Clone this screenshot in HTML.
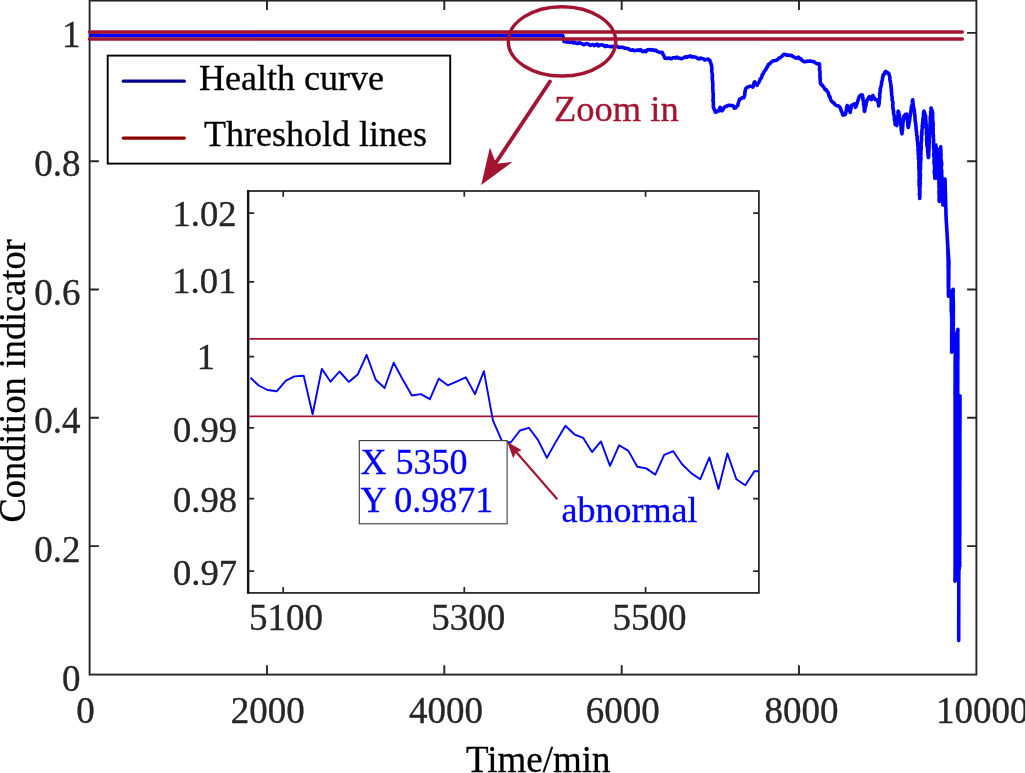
<!DOCTYPE html>
<html lang="en">
<head>
<meta charset="utf-8">
<title>Condition indicator health curve</title>
<style>
html,body{margin:0;padding:0;background:#fff;}
body{width:1025px;height:773px;overflow:hidden;}
svg{display:block;}
text{font-family:"Liberation Serif",serif;font-size:36px;}
.tk{fill:#262626;font-size:37px;stroke:#262626;stroke-width:0.35px;}
.itk{fill:#262626;font-size:36.6px;stroke:#262626;stroke-width:0.35px;}
.lb{fill:#000;stroke:#000;stroke-width:0.3px;}
.ax{stroke:#262626;stroke-width:1.9;fill:none;}
.iax{stroke:#262626;stroke-width:1.75;fill:none;}
.blue{fill:#0000ff;stroke:#0000ff;stroke-width:0.3px;}
.thr{fill:#a2142f;stroke:#a2142f;stroke-width:0.3px;font-size:36.5px;}
</style>
</head>
<body>
<svg width="1025" height="773" viewBox="0 0 1025 773">
<rect x="0" y="0" width="1025" height="773" fill="#ffffff"/>

<rect class="ax" x="89.6" y="0.6" width="886.8" height="674.0"/>
<path class="ax" d="M267.0,674.6v-9.3M267.0,0.6v9.3M444.3,674.6v-9.3M444.3,0.6v9.3M621.7,674.6v-9.3M621.7,0.6v9.3M799.0,674.6v-9.3M799.0,0.6v9.3M89.6,546.1h9.3M976.4,546.1h-9.3M89.6,417.8h9.3M976.4,417.8h-9.3M89.6,289.5h9.3M976.4,289.5h-9.3M89.6,161.2h9.3M976.4,161.2h-9.3M89.6,32.9h9.3M976.4,32.9h-9.3"/>
<polyline points="90.6,35.4 562.6,35.4 563.5,38.0 563.7,39.7 564.0,41.4 565.4,41.0 566.7,42.1 568.1,41.3 569.5,42.4 570.8,42.3 572.2,41.9 573.6,43.0 574.9,42.3 576.3,43.4 577.8,43.4 579.2,42.9 580.7,43.1 582.2,43.8 583.6,44.7 585.1,44.2 586.4,43.6 587.8,43.9 589.1,44.7 590.4,45.4 591.7,44.8 593.1,44.5 594.4,45.7 595.7,44.9 597.1,44.2 598.4,45.9 599.8,45.0 601.2,44.9 602.5,45.0 603.9,45.5 605.3,46.6 606.6,45.6 608.0,46.3 609.4,46.5 610.7,46.8 612.1,46.4 613.4,46.8 614.8,46.0 616.1,46.1 617.5,46.5 618.8,47.4 620.2,47.2 621.6,47.3 623.0,47.4 624.5,48.2 625.9,48.2 627.3,48.6 628.7,48.7 630.1,50.0 631.5,50.2 632.9,49.8 634.3,50.7 635.8,50.5 637.3,50.1 638.9,50.5 640.4,49.5 641.8,51.0 643.1,51.6 644.5,50.8 645.9,51.6 647.3,49.7 648.7,49.8 650.1,49.5 651.5,50.3 652.9,49.6 654.3,50.6 655.7,50.1 657.1,51.3 658.4,51.9 659.8,52.4 661.1,52.3 662.4,52.5 663.0,54.6 663.7,55.1 664.4,57.2 665.0,58.3 666.3,58.4 667.6,58.3 669.0,58.0 670.3,58.6 671.6,58.7 672.9,57.8 674.2,57.8 675.5,58.1 676.9,57.0 678.2,58.2 679.5,58.1 680.9,58.7 682.2,58.4 683.5,57.8 684.8,57.1 686.1,56.9 687.4,57.1 688.7,56.5 690.2,55.9 691.6,57.0 693.1,56.8 694.6,57.0 696.0,57.2 697.5,58.3 699.0,59.0 700.4,58.0 701.9,58.4 703.4,58.9 704.8,60.0 706.3,59.5 708.0,59.1 709.8,60.2 710.3,61.8 710.9,63.5 711.4,65.1 711.7,66.5 711.8,67.8 711.9,69.2 711.7,70.5 711.9,71.9 712.0,73.2 712.4,74.6 712.5,75.9 712.2,77.3 712.3,78.6 712.4,80.0 712.5,81.3 712.8,82.7 712.8,84.1 712.9,85.4 712.8,86.8 712.6,88.2 712.9,89.5 712.9,90.9 713.0,92.3 713.3,93.6 713.2,95.0 713.1,96.4 713.2,97.7 713.2,99.1 712.9,100.5 713.4,101.8 713.4,103.2 713.4,104.6 713.4,105.9 713.3,107.3 713.8,108.3 714.3,109.6 714.8,110.3 715.3,112.2 716.6,112.0 718.0,110.5 719.3,110.8 719.5,109.0 720.2,107.3 720.8,107.9 721.4,109.0 722.0,110.8 723.1,109.4 724.1,107.8 725.2,106.6 726.3,106.4 727.8,105.5 729.4,105.2 731.0,105.5 732.5,105.5 733.4,106.0 734.2,108.2 735.4,108.0 736.6,106.6 737.8,105.5 738.0,104.0 738.5,102.5 739.0,100.9 739.5,99.4 741.0,98.6 742.4,97.5 743.9,97.6 744.4,96.1 744.8,94.7 744.8,93.2 745.1,91.7 745.2,90.3 745.7,88.8 747.2,87.2 748.6,86.8 750.1,86.2 751.4,86.2 752.7,87.1 753.2,86.4 753.8,83.8 754.3,82.3 754.8,81.8 755.6,83.8 756.3,84.2 757.1,85.3 758.0,83.2 758.8,82.4 759.7,80.9 760.2,78.8 760.7,78.5 761.3,78.1 761.8,76.7 762.3,74.8 763.2,73.8 764.1,71.7 765.0,70.6 765.9,69.5 766.5,67.6 767.2,67.3 767.9,65.6 768.5,64.2 769.8,63.8 771.1,62.1 772.5,61.1 773.8,60.7 775.1,60.6 776.4,60.3 777.7,59.4 779.0,58.1 780.1,57.8 781.2,56.9 782.3,55.9 783.4,54.6 785.0,54.3 786.5,55.1 788.0,55.0 789.6,55.5 790.8,55.2 792.0,55.7 793.3,56.7 794.5,57.1 795.7,58.1 797.0,58.0 798.3,57.2 799.5,58.8 800.7,58.6 801.8,60.2 803.0,61.0 804.2,61.7 805.4,61.6 806.8,61.4 808.2,61.1 809.6,61.1 811.0,61.1 812.4,61.6 813.8,61.5 815.2,62.7 816.6,63.6 818.0,63.9 819.4,63.7 819.5,65.1 819.6,66.4 819.8,67.8 819.4,69.1 819.8,70.5 820.0,71.8 820.0,73.2 820.0,74.6 820.0,75.9 819.9,77.3 820.3,78.6 820.1,80.0 820.4,81.3 820.3,82.7 821.2,84.7 822.0,84.8 822.9,86.2 823.8,87.1 824.7,89.1 825.5,89.8 826.4,89.8 827.3,91.5 827.8,92.0 828.4,93.3 829.0,95.8 829.5,96.9 830.0,96.9 830.6,99.3 831.2,100.8 831.7,101.1 832.8,102.5 833.9,103.0 835.0,104.5 836.1,105.5 837.6,105.7 839.0,106.4 840.5,108.2 841.0,110.4 841.5,111.3 842.1,112.4 842.6,114.6 843.1,115.2 845.4,114.3 845.7,112.8 846.2,111.4 846.5,109.9 846.4,108.4 846.8,107.0 847.2,105.5 847.8,106.5 848.4,107.8 849.0,109.9 849.6,110.7 850.2,112.5 850.4,111.1 850.5,109.7 851.1,108.3 851.1,106.9 851.4,105.5 853.0,104.6 854.5,103.8 855.0,105.5 855.4,107.3 855.9,106.8 856.4,104.6 856.9,104.3 857.4,102.2 857.8,101.0 858.3,99.7 858.8,97.6 859.3,97.1 859.8,95.9 861.1,94.9 862.5,95.0 862.4,96.4 863.0,97.7 862.8,99.1 863.2,100.5 863.5,101.8 863.6,103.2 863.6,104.6 863.9,105.9 864.1,107.3 864.4,108.7 864.2,110.0 864.6,111.4 864.9,110.0 865.0,108.6 865.3,107.2 865.8,105.8 866.0,104.4 866.3,103.0 866.7,101.6 866.8,100.2 867.7,99.7 868.5,97.7 869.4,96.6 870.4,98.4 871.4,99.7 871.9,98.3 872.3,96.9 872.8,95.5 873.7,97.2 874.6,98.2 875.5,99.7 877.6,99.7 877.9,101.2 878.1,102.8 878.6,104.4 878.6,105.9 878.9,104.6 879.1,103.2 879.3,101.9 879.1,100.6 879.4,99.3 879.7,97.9 879.8,96.6 879.6,95.3 879.7,93.9 880.1,92.6 880.0,91.3 880.3,90.0 880.3,88.6 880.7,87.3 881.1,85.9 881.4,84.5 881.7,83.1 881.6,81.7 882.2,80.4 882.5,79.0 882.5,77.6 883.1,76.2 883.2,74.8 884.1,74.5 885.0,72.0 885.9,71.3 886.9,72.9 888.0,72.8 889.0,73.8 889.2,75.2 889.8,76.7 889.9,78.1 889.8,79.5 890.2,80.9 890.5,82.3 890.7,83.8 891.0,85.2 891.0,86.5 891.1,87.9 891.5,89.2 891.2,90.6 891.6,91.9 891.7,93.2 891.6,94.6 891.9,95.9 892.2,97.3 892.2,98.6 892.1,100.0 892.7,101.3 892.8,102.6 893.0,104.0 892.6,105.3 892.8,106.7 893.1,108.0 893.0,109.4 893.6,110.8 893.5,112.1 893.6,113.5 893.9,114.9 894.4,116.2 894.5,117.6 894.4,119.0 894.5,120.4 895.1,121.8 895.1,123.1 895.2,124.5 896.8,125.6 897.0,124.3 896.9,123.0 897.0,121.6 897.4,120.3 897.4,119.0 897.4,117.7 898.0,116.4 898.0,115.1 898.2,113.7 897.9,112.4 898.3,111.1 898.8,112.4 898.7,113.8 899.4,115.1 899.5,116.4 899.7,117.7 900.1,119.1 900.4,120.4 900.8,121.7 900.6,123.1 900.7,124.4 901.1,125.8 901.1,127.1 901.1,128.4 901.3,129.8 901.4,131.1 901.7,132.5 902.0,133.8 902.0,132.4 902.2,131.1 902.6,129.7 902.5,128.4 902.7,127.0 902.7,125.7 902.9,124.3 902.9,123.0 903.2,121.6 903.2,120.3 903.7,118.9 903.8,117.6 903.9,116.2 905.2,114.6 906.6,114.2 906.7,115.5 907.2,116.9 906.9,118.2 907.4,119.5 907.4,120.8 907.6,122.2 907.9,123.5 907.8,124.8 908.0,126.2 908.2,127.5 908.5,126.2 908.9,124.8 908.8,123.5 909.3,122.2 909.5,120.8 909.7,119.5 909.8,118.2 910.0,116.8 910.3,115.5 910.3,114.2 910.5,112.9 910.7,111.6 911.2,110.3 911.2,109.0 911.3,107.7 911.5,106.3 912.1,105.0 912.3,103.7 912.4,102.4 912.4,101.1 912.7,99.8 912.7,101.2 913.0,102.6 913.2,104.0 913.2,105.4 913.6,106.8 913.7,108.2 914.2,109.5 914.4,110.9 914.4,112.3 914.4,113.7 915.0,115.1 914.9,116.5 915.0,117.9 915.1,119.2 915.1,120.6 915.4,122.0 915.7,123.3 915.8,124.7 915.8,126.1 916.1,127.4 916.0,128.8 916.3,130.2 916.4,131.5 916.7,132.9 916.6,134.3 916.8,135.6 917.2,137.0 917.2,138.4 917.2,139.7 917.5,141.1 917.6,142.5 917.8,143.9 917.8,145.2 918.0,146.6 918.2,148.0 918.0,149.4 918.0,150.7 918.5,152.1 918.1,153.5 918.5,154.9 918.6,156.2 918.6,157.6 918.4,158.9 918.9,160.2 918.9,161.5 918.8,162.9 918.9,164.2 919.0,165.5 918.7,166.8 918.9,168.1 918.9,169.4 919.1,170.8 919.2,172.1 919.2,173.4 919.1,174.7 919.3,176.0 919.2,177.3 919.3,178.7 919.1,180.0 919.0,181.3 919.1,182.6 919.2,183.9 919.1,185.2 919.6,186.6 919.4,187.9 919.5,189.2 919.6,190.5 919.6,191.8 919.6,193.1 919.3,194.5 919.8,195.8 919.8,197.1 919.7,198.4 919.7,197.1 919.8,195.8 919.9,194.5 919.6,193.2 920.0,191.9 919.8,190.6 919.7,189.3 919.9,188.0 920.1,186.7 919.9,185.4 920.2,184.1 920.4,182.8 920.2,181.5 920.1,180.2 920.2,178.9 920.4,177.6 920.4,176.3 920.4,175.0 920.4,173.7 920.2,172.4 920.2,171.1 920.3,169.8 920.6,168.5 920.4,167.2 920.6,165.9 920.3,164.6 920.4,163.3 920.6,162.0 920.8,160.7 920.9,159.4 920.9,158.1 920.7,156.8 920.9,155.5 920.9,154.2 920.9,152.9 920.7,151.6 921.2,150.3 920.9,149.0 921.3,147.7 921.3,146.4 920.9,145.1 921.1,143.8 921.2,142.5 921.5,141.1 921.6,139.8 921.5,138.4 921.5,137.1 921.5,135.7 922.0,134.4 921.7,133.0 922.0,131.7 921.9,130.3 922.2,128.9 922.5,127.6 922.1,126.2 922.6,124.9 922.5,123.5 922.8,122.2 922.7,120.8 923.0,119.4 923.0,118.1 923.5,116.7 923.5,115.3 923.4,113.9 923.6,112.6 924.1,111.2 924.5,112.5 924.9,113.8 925.2,115.2 925.7,116.5 925.6,117.8 925.7,119.1 925.8,120.4 926.1,121.8 925.7,123.1 926.2,124.4 926.3,125.7 926.0,127.0 926.5,128.3 926.4,129.7 926.6,131.0 926.3,132.3 926.4,133.6 926.5,134.9 926.8,136.2 926.7,137.6 926.6,138.9 926.7,140.2 926.8,141.5 926.8,142.8 926.8,144.2 927.0,145.5 927.5,146.8 927.4,148.2 927.8,149.5 927.6,150.8 927.7,152.2 928.0,153.5 928.0,154.8 928.2,156.2 928.4,157.5 928.7,156.2 928.7,154.8 928.8,153.5 928.7,152.1 929.0,150.8 929.0,149.4 928.9,148.1 929.1,146.8 928.8,145.4 929.2,144.1 929.1,142.7 929.4,141.4 929.4,140.1 929.2,138.7 929.2,137.4 929.7,136.0 929.4,134.7 929.6,133.3 929.7,132.0 929.7,130.7 929.7,129.3 930.0,128.0 930.2,126.7 929.9,125.4 930.2,124.0 930.1,122.7 930.3,121.4 930.3,120.0 930.2,118.7 930.3,117.4 930.4,116.1 930.9,114.7 930.7,113.4 930.6,112.1 931.1,110.8 931.2,109.4 931.0,108.1 931.6,109.6 932.1,110.7 932.7,113.0 932.6,114.3 932.6,115.7 932.7,117.0 932.6,118.4 932.8,119.7 932.8,121.1 933.0,122.4 933.2,123.7 933.2,125.1 933.0,126.4 933.1,127.8 933.2,129.1 933.1,130.5 933.2,131.8 933.1,133.2 933.2,134.5 933.6,135.8 933.2,137.2 933.4,138.5 933.6,139.9 933.7,141.2 933.4,142.6 933.6,143.9 933.5,145.2 933.5,146.5 933.7,147.9 933.7,149.2 934.1,150.5 934.0,151.8 934.1,153.1 933.7,154.5 933.7,155.8 934.1,157.1 934.3,158.4 934.1,159.7 934.2,161.1 933.9,162.4 934.2,163.7 934.5,165.0 934.5,166.3 934.6,167.6 934.7,169.0 934.3,170.3 934.3,171.6 934.3,172.9 934.6,174.2 934.7,175.6 934.9,176.9 934.7,178.2 934.9,176.9 934.9,175.5 935.0,174.2 934.9,172.9 935.0,171.6 934.7,170.2 935.2,168.9 934.9,167.6 935.4,166.2 935.3,164.9 935.1,163.6 935.1,162.3 935.2,160.9 935.4,159.6 935.5,158.3 935.3,157.0 935.3,155.6 935.6,154.3 935.7,153.0 935.6,151.6 935.6,150.3 935.8,149.0 935.5,147.7 935.7,146.3 935.9,145.0 935.9,146.3 936.3,147.7 936.1,149.0 936.3,150.3 936.2,151.6 936.1,153.0 936.2,154.3 936.6,155.6 936.5,157.0 936.4,158.3 936.3,159.6 936.6,160.9 936.7,162.3 936.6,163.6 936.6,164.9 936.9,166.2 937.1,167.6 936.8,168.9 936.7,170.2 936.9,171.6 937.0,172.9 937.2,174.2 937.0,175.5 937.4,176.9 937.3,178.2 937.5,176.8 937.4,175.5 937.3,174.1 937.8,172.8 937.5,171.4 937.8,170.1 937.6,168.7 937.6,167.4 938.0,166.0 937.8,164.7 938.2,163.3 938.0,162.0 937.9,160.6 938.0,159.3 938.1,157.9 938.3,156.6 938.5,155.2 938.1,153.9 938.3,152.5 938.3,151.2 938.5,149.8 938.8,151.1 938.3,152.5 938.3,153.8 938.3,155.1 938.5,156.4 938.8,157.8 938.9,159.1 938.8,160.4 939.0,161.7 938.9,163.1 938.6,164.4 938.6,165.7 939.0,167.0 938.9,168.4 938.6,169.7 938.9,171.0 938.8,172.3 938.8,173.7 938.8,175.0 938.7,176.3 938.7,177.6 938.8,179.0 938.9,180.3 939.2,181.6 938.8,182.9 939.3,184.3 938.9,185.6 939.0,186.9 939.3,188.2 939.3,189.6 939.1,190.9 938.9,192.2 939.2,193.5 939.1,194.9 939.4,196.2 939.1,197.5 939.2,198.8 939.5,200.2 939.3,201.5 939.1,200.2 939.3,198.9 939.6,197.6 939.6,196.3 939.2,195.0 939.2,193.7 939.3,192.4 939.8,191.1 939.5,189.8 939.8,188.5 939.9,187.1 939.6,185.8 939.6,184.5 940.0,183.2 939.9,181.9 939.7,180.6 940.0,179.3 939.8,178.0 939.8,176.7 939.7,175.4 940.1,174.1 940.3,172.8 940.1,171.5 940.3,170.2 939.9,168.9 940.0,167.6 940.2,166.3 940.5,165.0 940.5,163.7 940.2,162.4 940.2,161.1 940.3,159.7 940.4,158.4 940.7,157.1 940.3,155.8 940.7,154.5 940.7,153.2 940.7,151.9 940.7,150.6 940.7,149.3 940.6,148.0 940.7,146.7 940.7,148.0 940.7,149.3 941.0,150.6 940.7,151.9 940.8,153.2 941.1,154.5 940.9,155.9 940.9,157.2 940.9,158.5 941.2,159.8 941.2,161.1 941.6,162.4 941.6,163.7 941.7,165.0 941.3,166.3 941.3,167.6 941.3,168.9 941.6,170.2 941.8,171.6 941.7,172.9 941.6,174.2 941.8,175.5 941.9,176.8 941.9,178.1 942.0,179.4 942.1,180.8 942.2,182.1 942.2,183.5 941.9,184.8 942.4,186.2 942.1,187.5 942.3,188.9 942.3,190.2 942.5,191.6 942.3,192.9 942.4,194.2 942.4,195.6 942.4,196.9 942.9,198.3 942.7,199.6 942.7,201.0 942.7,202.3 943.1,203.7 942.9,205.0 943.0,203.7 942.9,202.4 943.2,201.0 943.2,199.7 943.5,198.4 943.1,197.1 943.3,195.7 943.6,194.4 943.6,193.1 943.7,191.8 943.3,190.5 943.5,189.1 943.5,187.8 943.6,186.5 944.1,185.2 943.9,183.8 944.2,182.5 944.0,181.2 945.0,179.1 946.0,214.4 946.0,216.0 946.1,217.0 946.1,218.0 946.2,219.0 946.2,220.0 946.3,221.0 946.4,222.0 946.4,223.0 946.5,224.0 946.5,225.0 946.6,226.0 946.7,227.0 946.7,228.0 946.8,229.0 946.8,230.0 946.9,231.0 947.0,232.0 947.0,233.0 947.1,234.0 947.1,235.0 947.2,236.0 947.2,237.0 947.3,238.0 947.3,239.0 947.5,240.0 947.4,241.0 947.6,242.0 947.5,243.0 947.7,244.0 947.6,245.0 947.9,246.0 947.7,247.0 948.0,248.0 947.7,249.0 948.2,250.0 947.8,251.0 948.3,252.0 947.8,253.0 948.4,254.0 947.9,255.0 948.6,256.0 948.0,257.0 948.7,258.0 948.0,259.0 948.9,260.0 948.1,261.0 949.0,262.0 948.1,263.0 949.0,264.0 948.1,265.0 949.0,266.0 948.1,267.0 948.9,268.0 948.1,269.0 948.9,270.0 948.2,271.0 948.9,272.0 948.2,273.0 948.9,274.0 948.2,275.0 948.9,276.0 948.2,277.0 948.9,278.0 948.2,279.0 948.8,280.0 948.2,281.0 948.8,282.0 948.2,283.0 948.8,284.0 948.2,285.0 948.8,286.0 948.2,287.0 948.8,288.0 948.3,289.0 948.8,290.0 948.3,291.0 948.7,292.0 948.3,293.0 948.5,296.3 953.1,289.3 953.2,292.0 952.2,293.0 953.2,294.0 951.8,295.0 953.2,296.0 951.4,297.0 953.3,298.0 951.2,299.0 953.3,300.0 951.2,301.0 953.3,302.0 951.2,303.0 953.3,304.0 951.2,305.0 953.4,306.0 951.2,307.0 953.4,308.0 951.2,309.0 953.4,310.0 951.2,311.0 953.4,312.0 951.4,313.0 953.4,314.0 951.5,315.0 953.4,316.0 951.6,317.0 953.4,318.0 951.7,319.0 953.4,320.0 951.7,321.0 953.4,322.0 951.7,323.0 953.4,324.0 951.7,325.0 953.3,326.0 951.7,327.0 953.3,328.0 951.7,329.0 953.3,330.0 951.6,331.0 953.3,332.0 951.6,333.0 953.3,334.0 951.6,335.0 953.2,336.0 951.6,337.0 953.2,338.0 951.6,339.0 953.2,340.0 951.6,341.0 953.0,342.0 951.6,343.0 952.7,344.0 951.6,345.0 952.5,346.0 951.6,347.0 952.3,348.0 951.6,349.0 951.6,352.2 957.9,329.4 957.9,332.0 956.9,333.0 957.9,334.0 956.6,335.0 957.9,336.0 956.3,337.0 957.9,338.0 956.0,339.0 957.9,340.0 955.8,341.0 957.9,342.0 955.5,343.0 957.9,344.0 955.2,345.0 957.9,346.0 955.2,347.0 957.9,348.0 955.2,349.0 957.9,350.0 955.2,351.0 957.9,352.0 955.2,353.0 957.9,354.0 955.2,355.0 957.9,356.0 955.2,357.0 957.9,358.0 955.1,359.0 957.9,360.0 955.1,361.0 957.9,362.0 955.1,363.0 957.8,364.0 955.1,365.0 957.8,366.0 955.1,367.0 957.8,368.0 955.1,369.0 957.8,370.0 955.1,371.0 957.8,372.0 955.1,373.0 957.8,374.0 955.1,375.0 957.8,376.0 955.1,377.0 957.8,378.0 955.1,379.0 957.8,380.0 955.1,381.0 957.8,382.0 955.1,383.0 957.8,384.0 955.0,385.0 957.8,386.0 955.0,387.0 957.8,388.0 955.0,389.0 957.8,390.0 955.0,391.0 957.8,392.0 955.0,393.0 957.8,394.0 955.0,395.0 960.1,396.0 955.0,397.0 960.1,398.0 955.0,399.0 960.1,400.0 955.0,401.0 960.1,402.0 955.0,403.0 960.1,404.0 955.0,405.0 960.1,406.0 955.0,407.0 960.1,408.0 955.0,409.0 960.1,410.0 955.0,411.0 960.1,412.0 955.0,413.0 960.1,414.0 955.0,415.0 960.1,416.0 955.0,417.0 960.1,418.0 955.0,419.0 960.1,420.0 955.0,421.0 960.1,422.0 955.0,423.0 960.1,424.0 955.0,425.0 960.0,426.0 955.0,427.0 960.0,428.0 955.0,429.0 960.0,430.0 955.0,431.0 960.0,432.0 955.0,433.0 960.0,434.0 955.0,435.0 960.0,436.0 955.0,437.0 960.0,438.0 955.0,439.0 960.0,440.0 955.0,441.0 960.0,442.0 955.0,443.0 960.0,444.0 955.0,445.0 960.0,446.0 955.0,447.0 960.0,448.0 955.0,449.0 960.0,450.0 955.0,451.0 960.0,452.0 955.0,453.0 960.0,454.0 955.0,455.0 960.0,456.0 955.0,457.0 960.0,458.0 955.0,459.0 960.0,460.0 955.0,461.0 960.0,462.0 955.0,463.0 960.0,464.0 955.0,465.0 960.0,466.0 955.0,467.0 960.0,468.0 955.0,469.0 960.0,470.0 955.0,471.0 960.0,472.0 955.0,473.0 960.0,474.0 955.0,475.0 960.0,476.0 955.0,477.0 960.0,478.0 955.0,479.0 960.0,480.0 955.0,481.0 959.9,482.0 955.0,483.0 959.9,484.0 955.0,485.0 959.9,486.0 955.0,487.0 959.9,488.0 955.0,489.0 959.9,490.0 955.0,491.0 959.9,492.0 955.0,493.0 959.9,494.0 955.0,495.0 959.9,496.0 955.0,497.0 959.9,498.0 955.0,499.0 959.9,500.0 955.0,501.0 959.9,502.0 955.0,503.0 959.9,504.0 955.0,505.0 959.9,506.0 955.0,507.0 959.9,508.0 955.0,509.0 959.9,510.0 955.0,511.0 959.9,512.0 955.0,513.0 959.9,514.0 955.0,515.0 959.9,516.0 955.0,517.0 959.9,518.0 955.0,519.0 959.9,520.0 955.0,521.0 959.9,522.0 955.0,523.0 959.9,524.0 955.0,525.0 959.9,526.0 955.0,527.0 959.9,528.0 955.0,529.0 959.9,530.0 955.0,531.0 959.9,532.0 955.0,533.0 959.9,534.0 955.0,535.0 959.9,536.0 955.0,537.0 959.8,538.0 955.0,539.0 959.8,540.0 955.0,541.0 959.8,542.0 955.0,543.0 959.8,544.0 955.0,545.0 959.8,546.0 955.0,547.0 959.8,548.0 955.0,549.0 959.8,550.0 955.0,551.0 959.8,552.0 955.0,553.0 959.8,554.0 955.0,555.0 959.8,556.0 955.0,557.0 959.8,558.0 955.0,559.0 959.8,560.0 955.0,561.0 959.8,562.0 955.0,563.0 959.8,564.0 955.0,565.0 959.8,566.0 955.0,567.0 959.4,568.0 955.0,569.0 959.1,570.0 955.0,571.0 958.9,572.0 955.0,573.0 958.9,574.0 955.0,575.0 958.9,576.0 955.0,577.0 955.0,581.2 958.8,570.0 958.7,640.6" fill="none" stroke="#0000ff" stroke-width="3.6" stroke-linejoin="round" stroke-linecap="round"/>
<line x1="89.6" y1="32.0" x2="962.3" y2="32.0" stroke="#a2142f" stroke-width="3.6" stroke-linecap="round"/>
<line x1="89.6" y1="39.0" x2="962.3" y2="39.0" stroke="#a2142f" stroke-width="3.6" stroke-linecap="round"/>
<text class="tk" x="80.6" y="47.0" text-anchor="end">1</text>
<text class="tk" x="80.6" y="176.3" text-anchor="end">0.8</text>
<text class="tk" x="80.6" y="305.0" text-anchor="end">0.6</text>
<text class="tk" x="80.6" y="433.0" text-anchor="end">0.4</text>
<text class="tk" x="80.6" y="561.6" text-anchor="end">0.2</text>
<text class="tk" x="80.6" y="690.6" text-anchor="end">0</text>
<text class="tk" x="85.6" y="723" text-anchor="middle">0</text>
<text class="tk" x="267.8" y="723" text-anchor="middle">2000</text>
<text class="tk" x="446.1" y="723" text-anchor="middle">4000</text>
<text class="tk" x="622.7" y="723" text-anchor="middle">6000</text>
<text class="tk" x="801.4" y="723" text-anchor="middle">8000</text>
<text class="tk" x="982.3" y="723" text-anchor="middle">10000</text>
<text class="lb" x="538.3" y="772.2" text-anchor="middle" style="font-size:37px">Time/min</text>
<text class="lb" transform="translate(25.3,522.4) rotate(-90)" textLength="283" lengthAdjust="spacingAndGlyphs" style="font-size:37.5px">Condition indicator</text>
<rect x="107.7" y="55.6" width="342.5" height="108" fill="#fff" stroke="#000" stroke-width="1.9"/>
<line x1="123.3" y1="81.2" x2="184.3" y2="81.2" stroke="#00008b" stroke-width="3.2" stroke-linecap="round"/>
<line x1="123.3" y1="138.1" x2="184.3" y2="138.1" stroke="#8b0000" stroke-width="3.2" stroke-linecap="round"/>
<text class="lb" x="199.0" y="90.2">Health curve</text>
<text class="lb" x="204.0" y="146.4">Threshold lines</text>
<ellipse cx="562" cy="41.4" rx="53.7" ry="34.7" fill="none" stroke="#a2142f" stroke-width="3.5"/>
<line x1="550" y1="81.5" x2="493" y2="167" stroke="#a2142f" stroke-width="3.8" stroke-linecap="round"/>
<polygon points="481.2,184.9 489.9,147.4 496.2,163.8 512.4,161.9" fill="#a2142f"/>
<text class="thr" x="554.0" y="121.1">Zoom in</text>
<rect x="248.3" y="191.0" width="510.6" height="401.9" fill="#fff" stroke="#262626" stroke-width="1.75"/>
<line x1="248.1" y1="190.1" x2="248.1" y2="593.8" stroke="#151515" stroke-width="2.3"/>
<path class="iax" d="M283.2,592.9v-5.8M283.2,191.0v5.8M464.3,592.9v-5.8M464.3,191.0v5.8M645.6,592.9v-5.8M645.6,191.0v5.8M248.3,213.1h5.8M758.9,213.1h-5.8M248.3,281.8h5.8M758.9,281.8h-5.8M248.3,356.5h5.8M758.9,356.5h-5.8M248.3,427.9h5.8M758.9,427.9h-5.8M248.3,498.6h5.8M758.9,498.6h-5.8M248.3,571.1h5.8M758.9,571.1h-5.8"/>
<line x1="249.3" y1="338.8" x2="757.9" y2="338.8" stroke="#a2142f" stroke-width="1.8"/>
<line x1="249.3" y1="416.3" x2="757.9" y2="416.3" stroke="#a2142f" stroke-width="1.8"/>
<polyline points="250.5,377.8 258.7,385.5 267.5,390.0 276.7,391.3 285.6,380.8 294.4,376.4 303.7,375.8 312.6,414.2 321.8,368.9 330.6,381.7 339.5,371.5 348.8,381.9 357.7,374.6 366.6,354.8 375.7,379.8 384.6,388.0 393.7,362.7 403.0,380.1 411.9,395.5 420.8,394.1 429.9,399.2 438.8,378.7 447.8,385.3 457.0,381.4 465.8,377.3 475.0,394.1 483.9,371.2 492.9,420.4 501.9,440.8 510.7,442.5 520.0,430.5 528.9,427.8 538.1,440.1 546.9,457.8 556.1,441.4 565.4,425.7 574.3,434.3 583.1,437.8 592.0,452.1 600.9,441.4 610.0,465.8 619.1,445.3 628.4,450.9 637.3,466.8 646.2,468.4 655.3,474.6 664.2,454.8 673.2,451.2 682.1,464.2 691.2,473.1 700.2,479.3 709.4,457.4 718.5,489.1 727.4,453.5 736.4,479.3 745.3,485.2 754.4,471.2 758.2,471.2" fill="none" stroke="#0000ff" stroke-width="1.9" stroke-linejoin="round"/>
<text class="itk" x="204.5" y="226.3" text-anchor="middle">1.02</text>
<text class="itk" x="204.3" y="293.0" text-anchor="middle">1.01</text>
<text class="itk" x="206.0" y="369.4" text-anchor="middle">1</text>
<text class="itk" x="205.0" y="442.0" text-anchor="middle">0.99</text>
<text class="itk" x="205.0" y="511.9" text-anchor="middle">0.98</text>
<text class="itk" x="205.0" y="585.2" text-anchor="middle">0.97</text>
<text class="tk" x="286.0" y="630.2" text-anchor="middle">5100</text>
<text class="tk" x="468.3" y="630.2" text-anchor="middle">5300</text>
<text class="tk" x="649.6" y="630.2" text-anchor="middle">5500</text>
<rect x="359.3" y="440.6" width="147.8" height="83.2" fill="#fff" stroke="#3a3a3a" stroke-width="1.1"/>
<text class="blue" x="360.6" y="473.8">X 5350</text>
<text class="blue" x="360.6" y="511.5">Y 0.9871</text>
<line x1="557.3" y1="499.3" x2="514" y2="449.5" stroke="#a2142f" stroke-width="2.1"/>
<polygon points="507.2,441.9 521.7,450.3 516.0,452.6 513.2,458.3" fill="#a2142f"/>
<text class="blue" x="561.5" y="522">abnormal</text>
</svg>
</body>
</html>
